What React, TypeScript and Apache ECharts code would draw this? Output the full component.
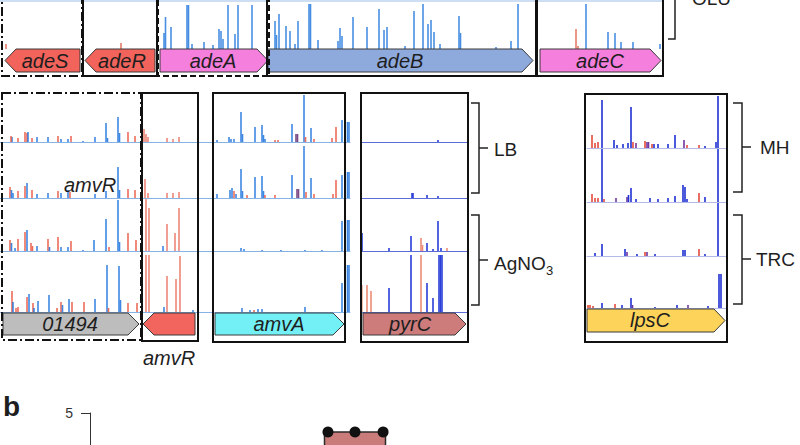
import React, { useEffect, useRef } from 'react';
import * as echarts from 'echarts';

// Insertion profiles: [position along region, read depth, strand ('b' = +, 'r' = -, 'p' = both)]
type Ins = [number, number, string];

// ---- top row (ade operon, single visible track) ----
const adeSTrack: Ins[] = [[3, 5, 'r']];
const adeRTrack: Ins[] = [[38, 6, 'r']];
const adeATrack: Ins[] = [[6, 16, 'b'], [7.5, 32, 'b'], [13, 22, 'b'], [29, 44, 'b'], [30.5, 44, 'b'], [34, 5, 'b'], [46, 7, 'b'], [55, 4, 'b'], [61, 20, 'b'], [63, 18, 'b'], [65, 10, 'b'], [70, 44, 'b'], [77, 15, 'b'], [80, 44, 'b'], [94, 44, 'b']];
const adeBTrack: Ins[] = [[7, 28, 'b'], [8.5, 14, 'b'], [11, 35, 'b'], [18, 23, 'b'], [22, 18, 'b'], [27, 5, 'b'], [30, 28, 'b'], [41, 45, 'b'], [42.5, 45, 'b'], [50, 9, 'b'], [70, 8, 'b'], [72, 21, 'b'], [74, 13, 'b'], [85, 32, 'b'], [99, 22, 'b'], [111, 40, 'b'], [116, 19, 'b'], [119, 22, 'b'], [137, 3, 'b'], [146, 38, 'b'], [155, 45, 'b'], [160, 25, 'b'], [163, 29, 'b'], [166, 17, 'b'], [172, 5, 'b'], [191, 33, 'b'], [192.5, 16, 'b'], [228, 2, 'b'], [243, 8, 'b'], [250, 45, 'b']];
const adeCTrack: Ins[] = [[36, 20, 'r'], [38, 3, 'r'], [46, 45, 'b'], [68, 17, 'b'], [75, 16, 'b'], [81, 7, 'b'], [93, 7, 'b'], [120, 5, 'b']];

// ---- 01494 region (LB, LB, AgNO3, AgNO3) ----
const r01494_1: Ins[] = [[12, 5, 'b'], [11, 6, 'r'], [18, 4, 'r'], [25, 10, 'r'], [27, 9, 'r'], [28, 10, 'b'], [32, 4, 'r'], [37, 5, 'b'], [48, 5, 'b'], [58, 6, 'r'], [61, 3, 'b'], [68, 3, 'b'], [71, 6, 'r'], [83, 1, 'b'], [95, 5, 'b'], [106, 19, 'b'], [107.5, 4, 'b'], [118, 25, 'b'], [119.5, 9, 'b'], [128, 10, 'r'], [135, 6, 'r']];
const r01494_2: Ins[] = [[10, 11, 'r'], [11.5, 8, 'b'], [13, 5, 'b'], [18, 7, 'r'], [25, 12, 'r'], [27, 15, 'b'], [32, 8, 'r'], [37, 4, 'b'], [48, 5, 'b'], [58, 7, 'r'], [61, 5, 'b'], [68, 8, 'b'], [70, 6, 'r'], [95, 4, 'b'], [106, 7, 'b'], [118, 31, 'b'], [119.5, 8, 'b'], [128, 9, 'r'], [135, 8, 'r']];
const r01494_3: Ins[] = [[10, 11, 'r'], [11.5, 8, 'b'], [15, 3, 'b'], [18, 12, 'r'], [25, 19, 'r'], [27, 21, 'b'], [31, 8, 'r'], [32.5, 5, 'r'], [37, 5, 'b'], [48, 12, 'r'], [49.5, 4, 'b'], [58, 14, 'r'], [61, 4, 'b'], [68, 4, 'b'], [71, 10, 'r'], [83, 1, 'b'], [94, 11, 'b'], [106, 32, 'b'], [109, 4, 'r'], [118, 51, 'b'], [119.5, 9, 'b'], [128, 18, 'r'], [136, 11, 'r']];
const r01494_4: Ins[] = [[12, 21, 'r'], [13, 10, 'b'], [16, 4, 'r'], [18, 5, 'r'], [27, 15, 'r'], [29, 18, 'b'], [33, 9, 'r'], [34, 4, 'b'], [38, 11, 'b'], [49, 17, 'b'], [57, 4, 'r'], [61, 10, 'r'], [62.5, 7, 'b'], [69, 13, 'b'], [72, 10, 'r'], [84, 10, 'r'], [95, 13, 'b'], [107, 47, 'b'], [108.5, 4, 'r'], [119, 46, 'b'], [120.5, 12, 'b'], [128, 9, 'r'], [137, 9, 'r']];

// ---- amvR ----
const amvR_1: Ins[] = [[1, 13, 'r'], [3, 8, 'r'], [5, 5, 'r'], [24, 4, 'r'], [30, 3, 'r'], [36, 5, 'r']];
const amvR_2: Ins[] = [[2, 19, 'r'], [5, 5, 'r'], [24, 5, 'r'], [30, 5, 'r'], [36, 6, 'r']];
const amvR_3: Ins[] = [[3, 52, 'r'], [6, 43, 'r'], [20, 5, 'b'], [24, 27, 'r'], [32, 18, 'r'], [36, 43, 'r']];
const amvR_4: Ins[] = [[3, 57, 'r'], [6, 57, 'r'], [21, 5, 'b'], [24, 36, 'r'], [33, 33, 'r'], [37, 56, 'r'], [50, 2, 'b']];

// ---- amvA ----
const amvA_1: Ins[] = [[4, 2, 'b'], [16, 5, 'b'], [18, 3, 'b'], [21, 3, 'b'], [28, 30, 'b'], [29.5, 8, 'b'], [42, 15, 'b'], [49, 17, 'b'], [50.5, 7, 'b'], [52, 3, 'b'], [62, 2, 'r'], [65, 2, 'r'], [79, 18, 'b'], [83, 8, 'p'], [84.5, 8, 'p'], [91, 47, 'b'], [92.5, 5, 'r'], [98, 14, 'b'], [101, 3, 'r'], [119, 4, 'r'], [123, 15, 'r'], [129, 22, 'b'], [134.5, 20, 'b'], [136, 20, 'b']];
const amvA_2: Ins[] = [[4, 4, 'b'], [17, 8, 'b'], [19, 10, 'b'], [21, 7, 'r'], [23, 4, 'b'], [28, 29, 'b'], [29.5, 7, 'b'], [34, 3, 'r'], [42, 21, 'b'], [49, 22, 'b'], [50.5, 7, 'b'], [52, 3, 'r'], [62, 3, 'r'], [79, 23, 'b'], [84, 9, 'p'], [85.5, 9, 'p'], [91, 52, 'b'], [93, 6, 'r'], [98, 20, 'b'], [101, 4, 'r'], [120, 4, 'r'], [123, 18, 'r'], [129, 23, 'b'], [134.5, 26, 'b'], [136, 26, 'b']];
const amvA_3: Ins[] = [[28, 3, 'b'], [31, 2, 'b'], [49, 1, 'b'], [68, 1, 'b'], [92, 1, 'b'], [109, 1, 'b'], [129, 30, 'b'], [134.5, 31, 'b'], [136, 31, 'b']];
const amvA_4: Ins[] = [[29, 4, 'b'], [37, 2, 'b'], [41, 2, 'r'], [45, 3, 'b'], [49, 3, 'b'], [92, 5, 'b'], [129, 29, 'b'], [134.5, 47, 'b'], [136, 47, 'b']];

// ---- pyrC ----
const pyrC_1: Ins[] = [[77, 2, 'b']];
const pyrC_2: Ins[] = [[51, 5, 'b'], [52, 5, 'b'], [66, 3, 'b'], [77, 2, 'b']];
const pyrC_3: Ins[] = [[1, 18, 'b'], [28, 3, 'b'], [50, 15, 'b'], [60, 13, 'r'], [61.5, 6, 'r'], [66, 8, 'b'], [72, 2, 'b'], [77, 30, 'b'], [80, 3, 'b'], [86, 3, 'r']];
const pyrC_4: Ins[] = [[0.8, 27, 'r'], [6, 27, 'r'], [10, 21, 'r'], [28, 24, 'b'], [50, 57, 'b'], [60, 57, 'r'], [66, 29, 'b'], [72, 14, 'b'], [78, 57, 'b'], [79.5, 57, 'b'], [81, 57, 'b']];

// ---- lpsC (MH, MH, TRC, TRC) ----
const lpsC_1: Ins[] = [[5, 13, 'r'], [8, 5, 'r'], [11, 6, 'r'], [15, 48, 'b'], [27, 8, 'b'], [30, 3, 'b'], [36, 4, 'b'], [41, 5, 'b'], [44, 41, 'b'], [46, 6, 'r'], [49, 5, 'p'], [58, 7, 'r'], [60, 6, 'p'], [61.5, 6, 'p'], [65, 4, 'r'], [67, 4, 'b'], [71, 4, 'b'], [81, 4, 'b'], [88, 13, 'b'], [97, 8, 'p'], [100, 3, 'r'], [112, 3, 'r'], [118, 2, 'b'], [129, 6, 'b'], [131, 52, 'b']];
const lpsC_2: Ins[] = [[5, 8, 'r'], [8, 4, 'r'], [11, 4, 'r'], [15, 53, 'b'], [17, 3, 'r'], [29, 4, 'p'], [40, 5, 'p'], [41.5, 7, 'b'], [44, 14, 'b'], [49, 3, 'b'], [63, 4, 'b'], [71, 3, 'b'], [81, 4, 'b'], [88, 6, 'b'], [96, 17, 'b'], [98, 15, 'b'], [100, 3, 'b'], [112, 9, 'r'], [118, 5, 'b'], [131, 53, 'b']];
const lpsC_3: Ins[] = [[8, 3, 'b'], [15, 12, 'b'], [38, 7, 'b'], [40, 4, 'p'], [50, 2, 'b'], [58, 4, 'r'], [60, 4, 'p'], [68, 2, 'b'], [96, 6, 'b'], [98, 6, 'b'], [112, 7, 'r'], [118, 2, 'b'], [131, 53, 'b']];
const lpsC_4: Ins[] = [[1, 3, 'r'], [3, 3, 'r'], [6, 2, 'r'], [15, 5, 'b'], [28, 4, 'r'], [35, 3, 'b'], [44, 10, 'b'], [45.5, 3, 'p'], [68, 1, 'b'], [90, 3, 'b'], [101, 3, 'p'], [121, 2, 'b'], [132, 34, 'b'], [134, 34, 'b']];

// ---- panel b ----
const bAxisRange = [0, 5];
const bBox = [3.2, 3.6, 4.0, 4.57, 4.57]; // min, Q1, median, Q3, max
const bPoints = [4.57, 4.57, 4.57];
const bJitter = [0.449, 0.5, 0.553];

const FONT = '"Liberation Sans", Arial, sans-serif';

const palTop = { b: 'rgba(40,122,222,0.85)', r: 'rgba(226,110,88,0.9)', p: '#7a4f8e' };
const palMid = { b: 'rgba(34,118,222,0.88)', r: 'rgba(234,92,72,0.9)', p: '#7b4a86' };
const palAmvR = { b: 'rgba(34,118,222,0.88)', r: 'rgba(236,128,112,0.95)', p: '#7b4a86' };
const palPyr = { b: '#2a3ed8', r: '#ec8c74', p: '#6b3aa8' };
const palLps = { b: '#1f30d2', r: '#e24c3c', p: '#7036a0' };

export default function App() {
  const ref = useRef<HTMLDivElement>(null);
  useEffect(() => {
    if (!ref.current) return;
    const chart = echarts.init(ref.current, undefined, { renderer: 'svg' });
    const grids: any[] = [], xAxes: any[] = [], yAxes: any[] = [], series: any[] = [];

    const addTrack = (left: number, top: number, width: number, height: number, data: Ins[], pal: any, line?: string) => {
      const i = grids.length;
      grids.push({ left, top, width, height });
      xAxes.push({
        gridIndex: i, type: 'value', min: 0, max: width,
        axisLine: { show: !!line, lineStyle: { color: line || '#fff', width: 1 } },
        axisTick: { show: false }, axisLabel: { show: false }, splitLine: { show: false },
      });
      yAxes.push({ gridIndex: i, type: 'value', min: 0, max: height, show: false, splitLine: { show: false } });
      series.push({
        type: 'bar', xAxisIndex: i, yAxisIndex: i, barWidth: 1.6, silent: true,
        data: data.map(([x, h, s]) => ({ value: [x, h], itemStyle: { color: pal[s] } })),
      });
    };

    // top row
    addTrack(3, 3, 79, 46, adeSTrack, palTop);
    addTrack(83, 3, 74, 46, adeRTrack, palTop);
    addTrack(158, 3, 110, 46, adeATrack, palTop);
    addTrack(268, 3, 265, 46, adeBTrack, palTop);
    addTrack(540, 3, 122, 46, adeCTrack, palTop);

    const rowA = [[95, 47], [143, 55], [199, 52], [252, 60]];
    const rowL = [[96, 52], [149, 53], [203, 53], [257, 51]];
    const sets: [number, number, Ins[][], any, string, number[][]][] = [
      [0, 143, [r01494_1, r01494_2, r01494_3, r01494_4], palMid, '#86b2e6', rowA],
      [143, 70, [amvR_1, amvR_2, amvR_3, amvR_4], palAmvR, '#86b2e6', rowA],
      [213, 137, [amvA_1, amvA_2, amvA_3, amvA_4], palMid, '#86b2e6', rowA],
      [361, 107, [pyrC_1, pyrC_2, pyrC_3, pyrC_4], palPyr, '#5b6cd6', rowA],
      [587, 140, [lpsC_1, lpsC_2, lpsC_3, lpsC_4], palLps, '#b4bae8', rowL],
    ];
    sets.forEach(([left, width, tracks, pal, line, rows]) => {
      tracks.forEach((t, k) => addTrack(left, rows[k][0], width, rows[k][1], t, pal, line));
    });

    // panel b (continues below the visible window)
    const bi = grids.length;
    grids.push({ left: 90, top: 413, width: 530, height: 220 });
    xAxes.push({ gridIndex: bi, type: 'category', data: ['amvR'], show: false });
    xAxes.push({ gridIndex: bi, type: 'value', min: 0, max: 1, show: false });
    yAxes.push({
      gridIndex: bi, type: 'value', min: bAxisRange[0], max: bAxisRange[1], interval: 5,
      axisLine: { show: true, lineStyle: { color: '#333', width: 1 } },
      axisTick: { show: true, length: 9, lineStyle: { color: '#333' } },
      axisLabel: { fontSize: 14, color: '#333', margin: 17, fontFamily: FONT, showMinLabel: false },
      splitLine: { show: false },
    });
    series.push({
      type: 'boxplot', xAxisIndex: bi, yAxisIndex: bi, silent: true,
      boxWidth: [61, 61], data: [bBox],
      itemStyle: { color: '#c97c7a', borderColor: '#2a2a2a', borderWidth: 1.5 },
    });
    series.push({
      type: 'scatter', xAxisIndex: bi + 1, yAxisIndex: bi, silent: true, symbolSize: 11,
      itemStyle: { color: '#111', opacity: 1 }, z: 5,
      data: bPoints.map((v, k) => [bJitter[k], v]),
    });

    const g: any[] = [];
    const txt = (x: number, y: number, text: string, size: number, opts: any = {}) =>
      g.push({
        type: 'text', x, y, z: 20,
        style: {
          text, fill: '#1e1e1e', fontSize: size, fontFamily: FONT,
          fontStyle: opts.italic ? 'italic' : 'normal', fontWeight: opts.bold ? 'bold' : 'normal',
          align: opts.align || 'left', verticalAlign: 'middle',
        },
      });
    const box = (x: number, y: number, w: number, h: number, dash?: number[]) =>
      g.push({ type: 'rect', z: 15, shape: { x, y, width: w, height: h }, style: { fill: 'none', stroke: '#111', lineWidth: 2, lineDash: dash || null } });
    const arrowR = (x0: number, x1: number, y0: number, y1: number, fill: string) => {
      const m = (y0 + y1) / 2;
      g.push({ type: 'polygon', z: 12, shape: { points: [[x0, y0], [x1 - 11, y0], [x1, m], [x1 - 11, y1], [x0, y1]] }, style: { fill, stroke: '#3a3a3a', lineWidth: 1 } });
    };
    const arrowL = (x0: number, x1: number, y0: number, y1: number, fill: string) => {
      const m = (y0 + y1) / 2;
      g.push({ type: 'polygon', z: 12, shape: { points: [[x0, m], [x0 + 11, y0], [x1, y0], [x1, y1], [x0 + 11, y1]] }, style: { fill, stroke: '#3a3a3a', lineWidth: 1 } });
    };
    const pl = (pts: number[][]) => g.push({ type: 'polyline', z: 15, shape: { points: pts }, style: { fill: 'none', stroke: '#222', lineWidth: 1.5 } });

    const dashDot = [9, 3, 2, 3];
    const dashed = [6, 3];

    // top row
    g.push({ type: 'line', z: 11, shape: { x1: 0, y1: 1, x2: 663, y2: 1 }, style: { stroke: '#9cbde8', lineWidth: 1 } });
    arrowL(5, 80, 49, 72, '#f1635b');
    arrowL(85, 155, 49, 72, '#f1635b');
    arrowR(160, 268, 49, 72, '#f57fdc');
    arrowR(268, 533, 49, 72, '#8eaadd');
    arrowR(540, 661, 49, 72, '#f57fdc');
    txt(45, 61, 'adeS', 20, { italic: true, align: 'center' });
    txt(122, 61, 'adeR', 20, { italic: true, align: 'center' });
    txt(213, 61, 'adeA', 20, { italic: true, align: 'center' });
    txt(400, 61, 'adeB', 20, { italic: true, align: 'center' });
    txt(600, 61, 'adeC', 20, { italic: true, align: 'center' });
    box(2, -10, 80, 86, dashDot);
    box(83, -10, 74, 86);
    box(158, -10, 111, 86, dashed);
    box(267, -10, 269, 86);
    box(537, -10, 126, 86);
    pl([[668, 39], [675, 39], [675, -5]]);
    txt(692, -2, 'OLU', 19);

    // middle row arrows
    arrowR(3, 139, 313, 335, '#bdbdbd');
    arrowL(143, 195, 313, 335, '#f2645e');
    arrowR(215, 344, 313, 335, '#72f0f6');
    arrowR(363, 466, 313, 335, '#cd7b7b');
    arrowR(587, 725, 309, 332, '#fdd35a');
    txt(70, 324, '01494', 20, { italic: true, align: 'center' });
    txt(279, 324, 'amvA', 20, { italic: true, align: 'center' });
    txt(410, 324, 'pyrC', 20, { italic: true, align: 'center' });
    txt(650, 320, 'lpsC', 20, { italic: true, align: 'center' });
    txt(90, 185, 'amvR', 20, { italic: true, align: 'center' });
    txt(169, 358, 'amvR', 20, { italic: true, align: 'center' });
    box(2, 93, 139, 247, dashDot);
    box(142, 93, 56, 248);
    box(213, 93, 132, 249);
    box(361, 93, 107, 249);
    box(585, 94, 142, 248);

    // brackets
    pl([[471, 103], [479, 103], [479, 193], [471, 193]]);
    pl([[479, 148], [488, 148]]);
    pl([[471, 215], [479, 215], [479, 305], [471, 305]]);
    pl([[479, 260], [488, 260]]);
    pl([[733, 103], [742, 103], [742, 192], [733, 192]]);
    pl([[742, 147], [751, 147]]);
    pl([[733, 215], [742, 215], [742, 304], [733, 304]]);
    pl([[742, 259], [751, 259]]);
    txt(494, 149, 'LB', 19);
    txt(494, 263, 'AgNO', 19);
    txt(546, 270, '3', 13);
    txt(760, 147, 'MH', 19);
    txt(756, 259, 'TRC', 19);

    // panel b label
    txt(3, 406, 'b', 28, { bold: true });

    chart.setOption({
      animation: false,
      backgroundColor: '#fff',
      grid: grids, xAxis: xAxes, yAxis: yAxes, series,
      graphic: { elements: g },
    });
    return () => chart.dispose();
  }, []);
  return (
    <div style={{ position: 'absolute', left: 0, top: 0, width: 800, height: 445, overflow: 'hidden' }}>
      <div ref={ref} style={{ width: 800, height: 660 }} />
    </div>
  );
}
